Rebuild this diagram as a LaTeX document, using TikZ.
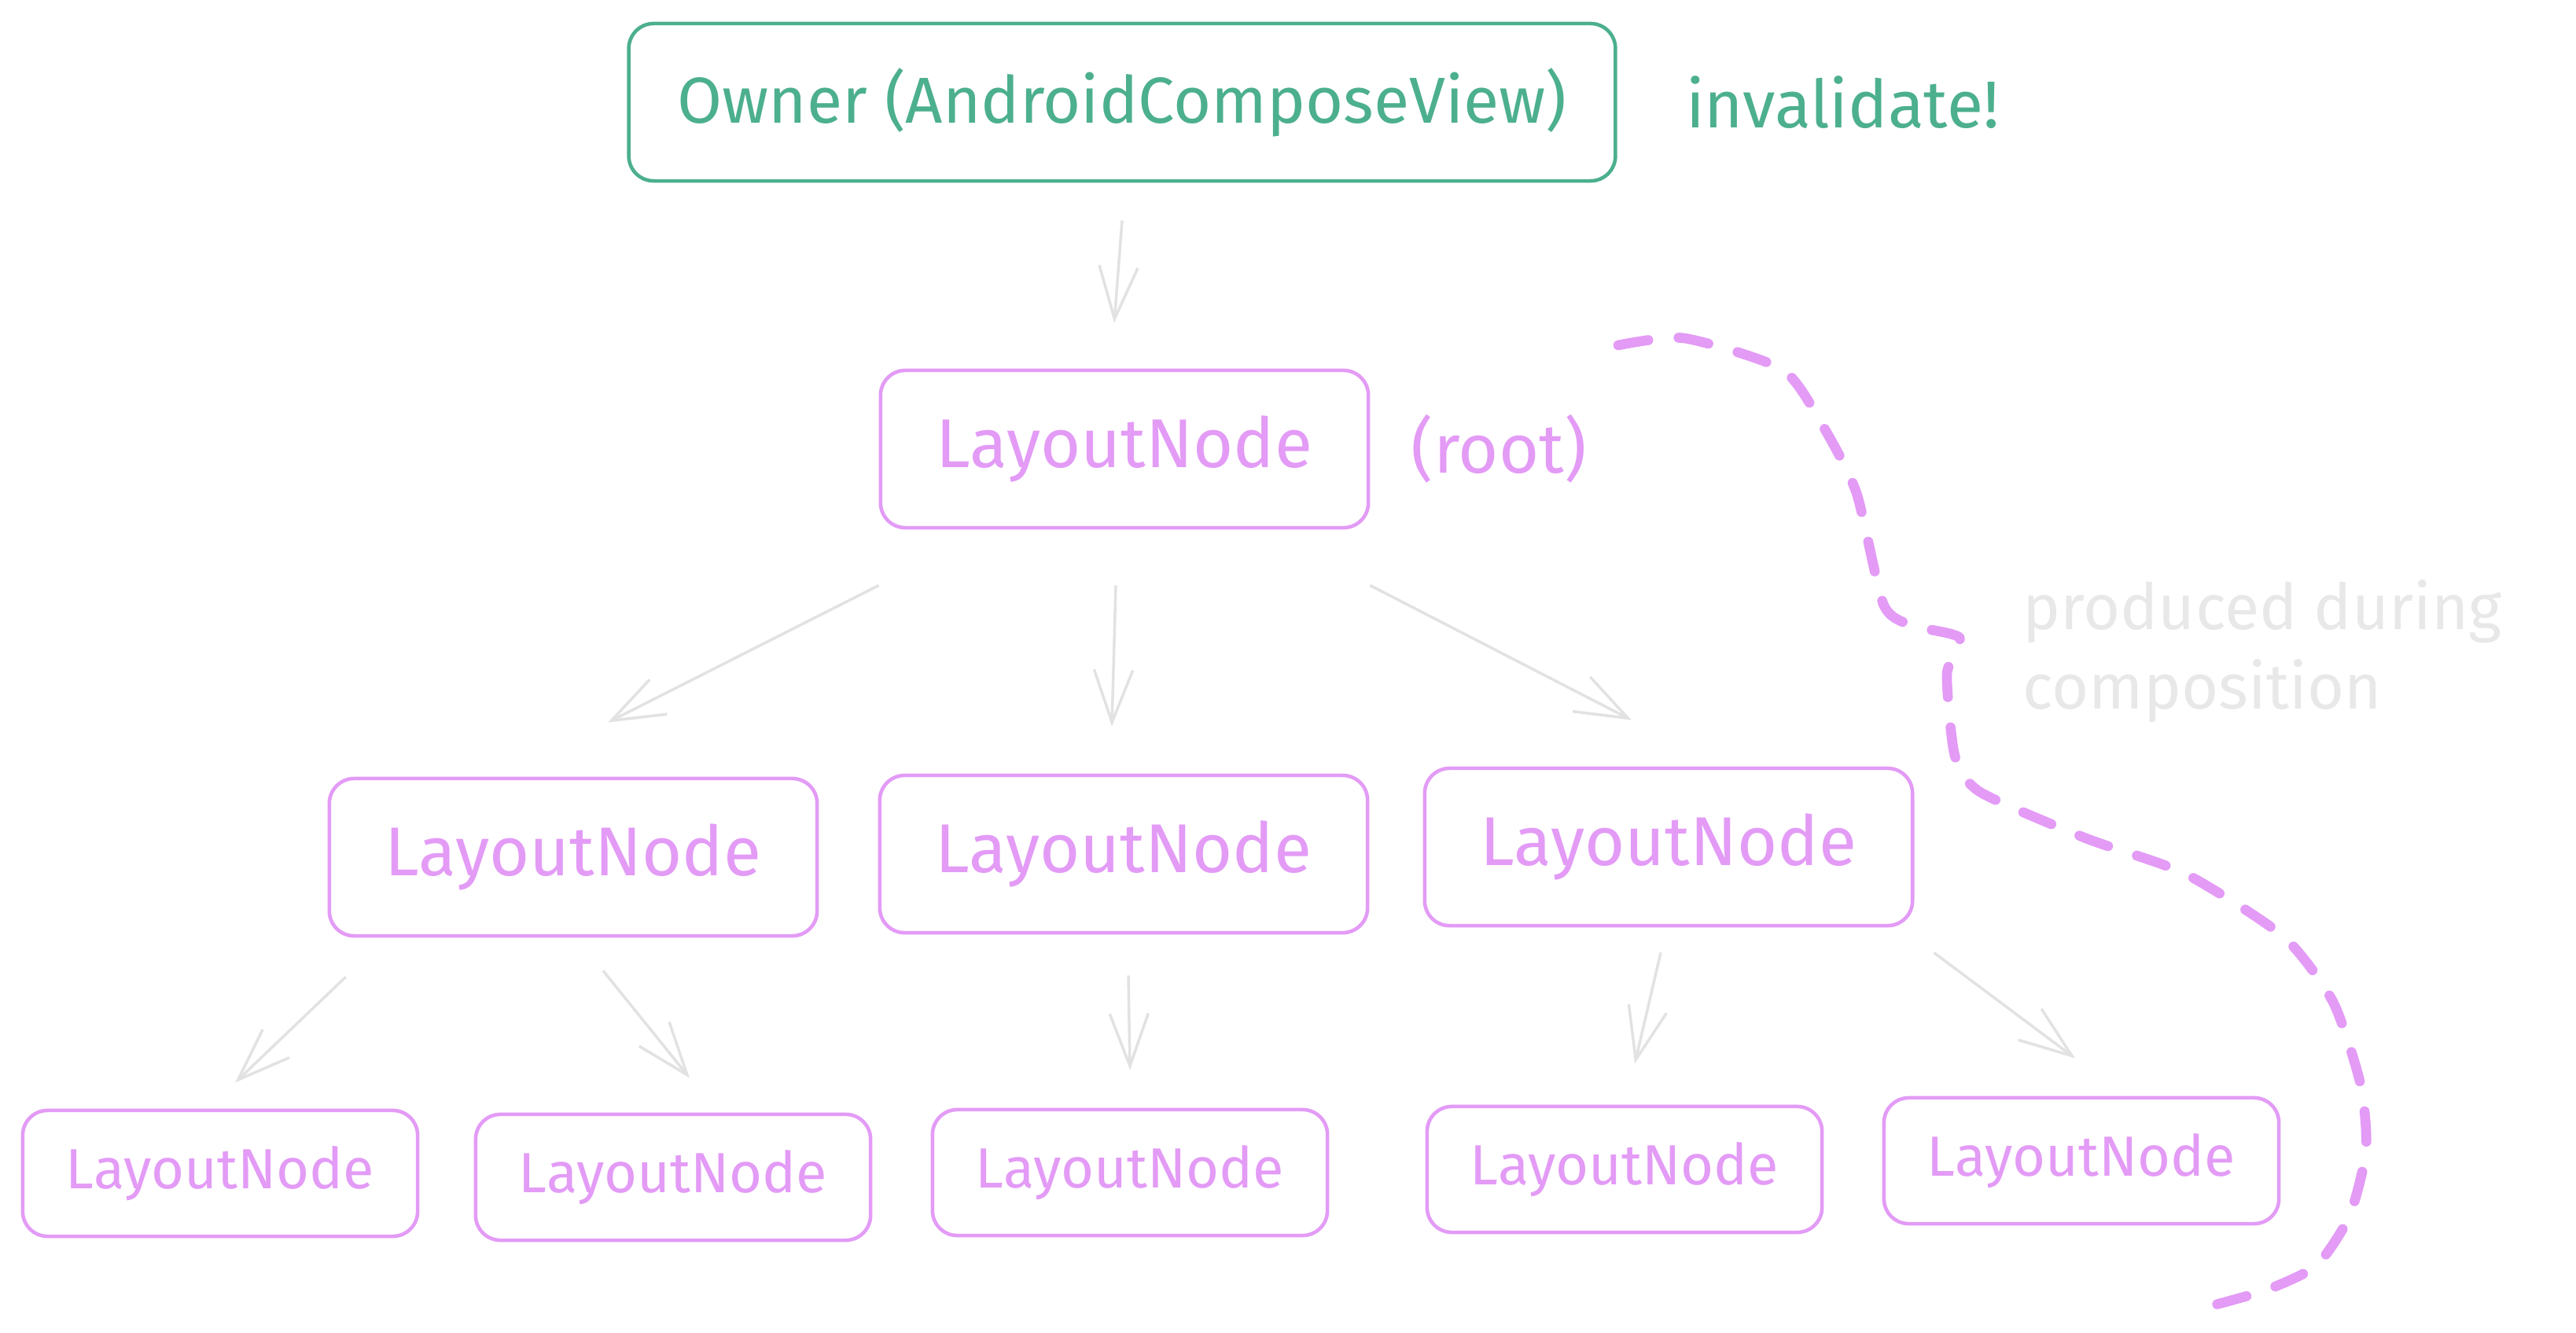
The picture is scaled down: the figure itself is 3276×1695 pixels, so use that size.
\documentclass[tikz,border=0pt]{standalone}
\usepackage{fontspec}
\setmainfont{Fira Sans}
\usetikzlibrary{positioning,arrows.meta}

\definecolor{ownergreen}{HTML}{4CAF8E}
\definecolor{nodepink}{HTML}{E39BF6}
\definecolor{linkgray}{HTML}{E2E2E2}
\definecolor{notegray}{HTML}{E8E8E8}

\begin{document}
\begin{tikzpicture}[x=0.01cm, y=-0.01cm,
  box/.style={draw=nodepink, text=nodepink, line width=1.3pt, rounded corners=9pt,
    minimum width=6.2cm, minimum height=2cm, font=\fontsize{25}{30}\selectfont},
  leaf/.style={box, minimum width=5.02cm, minimum height=1.6cm,
    font=\fontsize{20.5}{24}\selectfont},
  link/.style={draw=linkgray, line width=1pt, -{Straight Barb[length=19pt,width=14pt]}}]

  \useasboundingbox (0,0) rectangle (3276,1695);

  % Owner
  \node[box, draw=ownergreen, text=ownergreen, minimum width=12.54cm,
    font=\fontsize{23.5}{28}\selectfont] (owner) at (1427,130) {Owner (AndroidComposeView)};
  \node[right=0.75cm of owner, text=ownergreen, font=\fontsize{24}{28}\selectfont] (inval) {invalidate!};

  % Root
  \node[box] (root) at (1430,571) {LayoutNode};
  \node[right=0.4cm of root, text=nodepink, font=\fontsize{25}{30}\selectfont] (rootlbl) {(root)};

  % Children
  \node[box] (ca) at (729,1090) {LayoutNode};
  \node[box] (cb) at (1429,1086) {LayoutNode};
  \node[box] (cc) at (2122,1077) {LayoutNode};

  % Leaves
  \foreach \n/\x/\y in {la/280/1492, lb/856/1497, lc/1437/1491, ld/2066/1487, le/2647/1476} {
    \node[leaf] (\n) at (\x,\y) {LayoutNode};
  }

  % Links
  \draw[link] ([yshift=-0.48cm]owner.south) -- ([xshift=-0.13cm,yshift=0.58cm]root.north);
  \draw[link] ([yshift=-0.71cm]root.south west) -- ([xshift=0.44cm,yshift=0.69cm]ca.north);
  \draw[link] ([xshift=-0.11cm,yshift=-0.71cm]root.south) -- ([xshift=-0.15cm,yshift=0.6cm]cb.north);
  \draw[link] ([yshift=-0.71cm]root.south east) -- ([xshift=-0.47cm,yshift=0.59cm]cc.north);
  \draw[link] ([xshift=0.23cm,yshift=-0.5cm]ca.south west) -- ([xshift=0.19cm,yshift=0.33cm]la.north);
  \draw[link] ([xshift=0.38cm,yshift=-0.42cm]ca.south) -- ([xshift=0.21cm,yshift=0.44cm]lb.north);
  \draw[link] ([xshift=0.06cm,yshift=-0.52cm]cb.south) -- ([yshift=0.48cm]lc.north);
  \draw[link] ([xshift=-0.1cm,yshift=-0.32cm]cc.south) -- ([xshift=0.13cm,yshift=0.52cm]ld.north);
  \draw[link] ([xshift=0.25cm,yshift=-0.32cm]cc.south east) -- ([xshift=-0.08cm,yshift=0.48cm]le.north);

  % Composition bracket
  \draw[nodepink, line width=3.6pt, line cap=round, dash pattern=on 11pt off 11pt]
    plot[smooth, tension=0.4] coordinates {(2058,439) (2142,430) (2267,470) (2319,543)
      (2361,627) (2395,768) (2430,795) (2492,811) (2476,857) (2486,961) (2518,1007)
      (2653,1066) (2779,1111) (2904,1191) (2967,1274) (3002,1379) (3009,1462)
      (2988,1546) (2946,1609) (2883,1640) (2810,1661)};

  % Note
  \node[anchor=west, align=left, text=notegray, font=\fontsize{23}{28.6}\selectfont]
    (note) at (2560,828) {produced during\\composition};

\end{tikzpicture}
\end{document}
